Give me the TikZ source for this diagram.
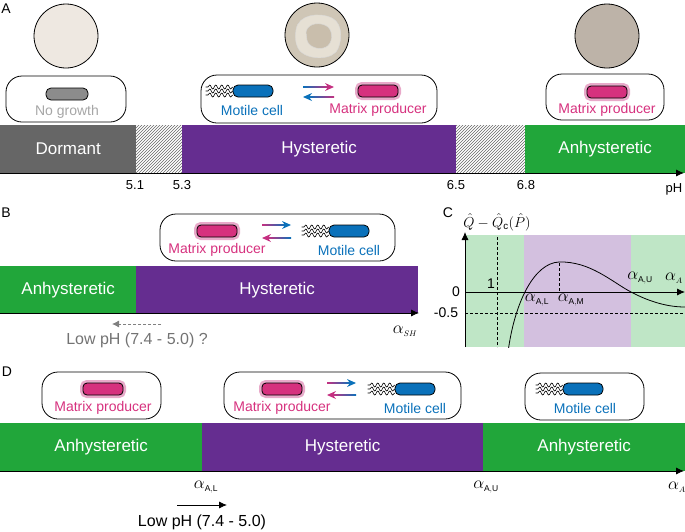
\documentclass[tikz,border=0pt]{standalone}
\usepackage{fontspec}
\setmainfont{Liberation Sans}
\usetikzlibrary{arrows.meta,patterns,decorations.pathmorphing,shapes.geometric}
\definecolor{purp}{HTML}{652D90}
\definecolor{grn}{HTML}{21A63A}
\definecolor{dgray}{HTML}{666666}
\definecolor{mag}{HTML}{D6317E}
\definecolor{halo}{HTML}{E8A9C9}
\definecolor{cblue}{HTML}{0A71BA}
\definecolor{lgreen}{HTML}{BFE6C6}
\definecolor{lpurp}{HTML}{D3C0DF}
\definecolor{dishA}{HTML}{EEE8E1}
\definecolor{dishB}{HTML}{CFC6B6}
\definecolor{dishBr}{HTML}{E6E0D4}
\definecolor{dishBi}{HTML}{C9BEAC}
\definecolor{dishC}{HTML}{BDB3A8}
\tikzset{
 bar/.style={draw=none,inner sep=0},
 bartext/.style={text=white,font=\fontsize{17}{19}\selectfont},
 bubble/.style={draw,thick,rounded corners=16pt},
 axis/.style={thick,-{Latex[length=8pt,width=7pt]}},
 tick/.style={font=\fontsize{13}{15}\selectfont},
 panel/.style={font=\fontsize{14}{16}\selectfont},
 lab/.style={font=\fontsize{14}{16}\selectfont},
 mp/.style={draw=black,thick,fill=mag,rounded corners=4pt,minimum width=40pt,minimum height=12pt,inner sep=0,
   preaction={draw=halo,line width=6pt,rounded corners=4pt}},
 mc/.style={draw=black,thick,fill=cblue,rounded corners=5pt,minimum width=40pt,minimum height=12pt,inner sep=0},
 dc/.style={draw=black,thick,fill=black!45,rounded corners=5pt,minimum width=42pt,minimum height=12pt,inner sep=0},
 flag/.style={decorate,decoration={snake,amplitude=2pt,segment length=6pt},line width=0.6pt},
 dish/.style={circle,draw=black,thick,minimum size=64pt,inner sep=0},
 alab/.style={font=\fontsize{17}{19}\selectfont},
}
\newcommand{\motile}[2]{% name, pos
 \node[mc] (#1) at (#2) {};
 \foreach \dy in {-4,0,4} {\draw[flag] ([yshift=\dy pt]#1.west) -- ++(-27pt,0);}
}
\newcommand{\garrR}[5]{% x1 x2 y tailcolor headcolor
 \shade[left color=#4,right color=#5] (#1,{#3-0.7}) rectangle ({#2-6},{#3+0.7});
 \fill[#5] (#2,#3) -- ({#2-9},{#3-4}) -- ({#2-6},#3) -- ({#2-9},{#3+4}) -- cycle;}
\newcommand{\garrL}[5]{% x1(head) x2 y headcolor tailcolor
 \shade[left color=#4,right color=#5] ({#1+6},{#3-0.7}) rectangle (#2,{#3+0.7});
 \fill[#4] (#1,#3) -- ({#1+9},{#3-4}) -- ({#1+6},#3) -- ({#1+9},{#3+4}) -- cycle;}
\begin{document}
\begin{tikzpicture}[x=1pt,y=-1pt]
\useasboundingbox (0,0) rectangle (685,531);
% ---------------- Panel A
\node[panel] (A) at (6,9) {A};
\node[dish,fill=dishA] (d1) at (66,36) {};
\node[dish,fill=dishB] (d2) at (317,35) {};
\draw[fill=dishBr,draw=black!15] (296,30) .. controls (298,14) and (320,12) .. (332,18) .. controls (344,24) and (342,44) .. (336,52) .. controls (326,62) and (302,58) .. (298,48) .. controls (295,42) and (295,36) .. (296,30) -- cycle;
\draw[fill=dishBi,draw=black!15] (306,32) .. controls (308,22) and (322,22) .. (328,27) .. controls (334,33) and (332,44) .. (326,47) .. controls (318,51) and (308,46) .. (307,40) -- cycle;
\node[dish,fill=dishC] (d3) at (607,36) {};
\draw[bubble] (6,76) rectangle (126,122);
\node[dc] (dcell) at (67,94) {};
\node[lab,text=black!35] (ng) at (67,112) {No growth};
\draw[bubble] (201,75) rectangle (437,123);
\motile{m1}{253,91}
\node[mp] (p1) at (378,91) {};
\node[lab,text=cblue] (t1) at (252,110) {Motile cell};
\node[lab,text=mag] (t2) at (378,110) {Matrix producer};
\garrR{303}{334}{87}{cblue}{mag!85!purp}
\garrL{303}{334}{97}{cblue}{mag!85!purp}
\draw[bubble] (546,74) rectangle (664,120);
\node[mp] (p2) at (607,92) {};
\node[lab,text=mag] (t3) at (607,110) {Matrix producer};
% bar
\node[bar,fill=dgray,minimum width=136pt,minimum height=48pt,anchor=north west,bartext] (dor) at (0,125) {Dormant};
\fill[pattern=north east lines,pattern color=black!60] (136,125) rectangle (182,173);
\node[bar,fill=purp,minimum width=274pt,minimum height=48pt,anchor=north west,bartext] (hys) at (182,125) {Hysteretic};
\fill[pattern=north east lines,pattern color=black!60] (456,125) rectangle (525,173);
\node[bar,fill=grn,minimum width=160pt,minimum height=48pt,anchor=north west,bartext] (anh) at (525,125) {Anhysteretic};
\coordinate (ax0) at (0,173); \coordinate (ax1) at (684,173);
\draw[axis] (ax0) -- (ax1);
\node[tick] (k1) at (135,185) {5.1};
\node[tick] (k2) at (182,185) {5.3};
\node[tick] (k3) at (456,185) {6.5};
\node[tick] (k4) at (526,185) {6.8};
\node[tick] (ph) at (674,189) {pH};
% ---------------- Panel B
\node[panel] (B) at (6,213) {B};
\draw[bubble] (160,214) rectangle (395,261);
\node[mp] (p3) at (217,231) {};
\motile{m2}{349,231}
\node[lab,text=mag] (t4) at (217,250) {Matrix producer};
\node[lab,text=cblue] (t5) at (349,250) {Motile cell};
\garrR{262}{291}{225}{mag!85!purp}{cblue}
\garrL{262}{291}{238}{mag!85!purp}{cblue}
\node[bar,fill=grn,minimum width=136pt,minimum height=47pt,anchor=north west,bartext] (anhB) at (0,266) {Anhysteretic};
\node[bar,fill=purp,minimum width=282pt,minimum height=47pt,anchor=north west,bartext] (hysB) at (136,266) {Hysteretic};
\coordinate (bx0) at (0,313); \coordinate (bx1) at (419,313);
\draw[axis] (bx0) -- (bx1);
\node[alab] (ash) at (405,331) {$\alpha_{\scriptscriptstyle SH}$};
\coordinate (g1) at (161,324); \coordinate (g2) at (112,324);
\draw[black!50,thick,densely dashed,-{Latex[length=7pt,width=7pt]}] (g1) -- (g2);
\node[text=black!55,font=\fontsize{16}{18}\selectfont] (lp1) at (137,340) {Low pH (7.4 - 5.0) ?};
% ---------------- Panel C
\node[panel] (C) at (448,213) {C};
\fill[lgreen] (465,235) rectangle (685,347);
\fill[lpurp] (524,235) rectangle (631,347);
\coordinate (y0) at (465,347); \coordinate (y1) at (465,232);
\draw[axis] (y0) -- (y1);
\coordinate (x0) at (465,292); \coordinate (x1) at (685,292);
\draw[axis] (x0) -- (x1);
\draw[densely dashed,thick] (497,237) -- (497,347);
\draw[densely dashed,thick] (465,313) -- (685,313);
\draw[densely dashed,thick] (559,263) -- (559,292);
\begin{scope}
\clip (465,235) rectangle (685,347);
\draw[thick] (508,352) .. controls (515,300) and (535,263) .. (559,262) .. controls (590,261) and (612,282) .. (631,292) .. controls (650,302) and (668,307) .. (685,307);
\end{scope}
\node[font=\fontsize{14}{16}\selectfont] (qlab) at (497,222) {$\hat{Q}-\hat{Q}_{\mathrm{c}}(\hat{P})$};
\node[font=\fontsize{14}{16}\selectfont] (z0) at (456,292) {0};
\node[font=\fontsize{14}{16}\selectfont] (zm) at (446,313) {-0.5};
\node[font=\fontsize{14}{16}\selectfont] (z1) at (491,284) {1};
\node[alab] (aL) at (537,300) {$\alpha_{\scriptscriptstyle\mathrm{A,L}}$};
\node[alab] (aM) at (571,300) {$\alpha_{\scriptscriptstyle\mathrm{A,M}}$};
\node[alab] (aU) at (640,278) {$\alpha_{\scriptscriptstyle\mathrm{A,U}}$};
\node[alab] (aA) at (674,278) {$\alpha_{\scriptscriptstyle A}$};
% ---------------- Panel D
\node[panel] (D) at (7,372) {D};
\draw[bubble] (42,372) rectangle (161,419);
\node[mp] (p4) at (103,389) {};
\node[lab,text=mag] (t6) at (103,408) {Matrix producer};
\draw[bubble] (224,372) rectangle (461,419);
\node[mp] (p5) at (282,389) {};
\motile{m3}{415,389}
\node[lab,text=mag] (t7) at (282,408) {Matrix producer};
\node[lab,text=cblue] (t8) at (415,408) {Motile cell};
\garrR{327}{356}{383}{mag!85!purp}{cblue}
\garrL{327}{356}{395}{mag!85!purp}{cblue}
\draw[bubble] (525,373) rectangle (644,420);
\motile{m4}{583,389}
\node[lab,text=cblue] (t9) at (585,408) {Motile cell};
\node[bar,fill=grn,minimum width=202pt,minimum height=48pt,anchor=north west,bartext] (anhD1) at (0,423) {Anhysteretic};
\node[bar,fill=purp,minimum width=281pt,minimum height=48pt,anchor=north west,bartext] (hysD) at (202,423) {Hysteretic};
\node[bar,fill=grn,minimum width=202pt,minimum height=48pt,anchor=north west,bartext] (anhD2) at (483,423) {Anhysteretic};
\coordinate (dx0) at (0,471); \coordinate (dx1) at (684,471);
\draw[axis] (dx0) -- (dx1);
\node[alab] (dL) at (206,487) {$\alpha_{\scriptscriptstyle\mathrm{A,L}}$};
\node[alab] (dU) at (486,487) {$\alpha_{\scriptscriptstyle\mathrm{A,U}}$};
\node[alab] (dA) at (677,487) {$\alpha_{\scriptscriptstyle A}$};
\coordinate (h1) at (177,505); \coordinate (h2) at (227,505);
\draw[thick,-{Latex[length=8pt,width=7pt]}] (h1) -- (h2);
\node[font=\fontsize{16}{18}\selectfont] (lp2) at (202,522) {Low pH (7.4 - 5.0)};
\end{tikzpicture}
\end{document}
